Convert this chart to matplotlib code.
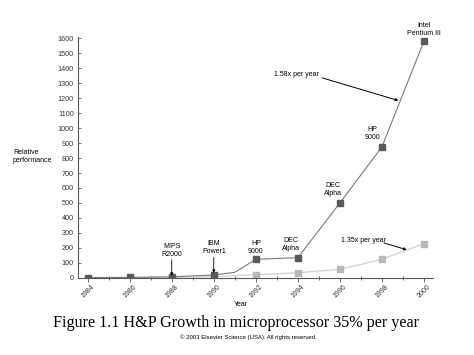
import matplotlib
matplotlib.use("Agg")
import matplotlib.pyplot as plt
from matplotlib.ticker import MultipleLocator

# Data
dark_years = [1984, 1986, 1988, 1990, 1991, 1992, 1994, 1996, 1998, 2000]
dark_values = [1, 2, 6, 18, 36, 123, 134, 500, 875, 1582]
dark_marked = [0, 1, 2, 3, 5, 6, 7, 8, 9]

light_years = [1984, 1986, 1988, 1990, 1992, 1994, 1996, 1998, 2000]
light_values = [0, 1, 3, 7, 20, 33, 56, 123, 228]
light_marked = [4, 5, 6, 7, 8]

xticks = [1984, 1986, 1988, 1990, 1992, 1994, 1996, 1998, 2000]
yticks = list(range(0, 1700, 100))

labels = [
    ("Intel\nPentium III", 2000.0, 1662),
    ("HP\n9000", 1997.56, 962),
    ("DEC\nAlpha", 1995.67, 587),
    ("HP\n9000", 1992.0, 199),
    ("DEC\nAlpha", 1993.66, 225),
]
arrow_labels = [
    ("MIPS\nR2000", 1988.0, 185, 120, 12),
    ("IBM\nPower1", 1990.0, 205, 135, 32),
]

sans = "Liberation Sans"
fs = 5.0
fig = plt.figure(figsize=(4.74, 3.55), dpi=100)
ax = fig.add_axes([78/474, 1-278/355, (433-78)/474, (278-37)/355])

ax.plot(light_years, light_values, color="#d0d0d0", lw=0.9, zorder=2,
        marker="s", markersize=3.8, markerfacecolor="#b8b8b8",
        markeredgecolor="#b8b8b8", markevery=light_marked)
ax.plot(dark_years, dark_values, color="#7a7a7a", lw=0.8, zorder=3,
        marker="s", markersize=3.8, markerfacecolor="#5a5a5a",
        markeredgecolor="#5a5a5a", markevery=dark_marked)

ax.set_xlim(1983.54, 2000.43)
ax.set_ylim(-2, 1610)
ax.set_xticks(xticks)
ax.set_xticklabels([str(x) for x in xticks], rotation=45, ha="center",
                   fontsize=fs, family=sans)
ax.xaxis.set_minor_locator(MultipleLocator(1))
ax.set_yticks(yticks)
ax.set_yticklabels([str(y) for y in yticks], fontsize=5.2, family=sans)
ax.tick_params(axis="y", direction="in", length=2.5, width=0.5, pad=3, colors="#333333")
ax.tick_params(axis="x", which="major", direction="out", length=3, width=0.5, pad=1, colors="#333333")
ax.tick_params(axis="x", which="minor", direction="inout", length=3, width=0.5, colors="#333333")
for s in ["top", "right"]:
    ax.spines[s].set_visible(False)
for s in ["left", "bottom"]:
    ax.spines[s].set_linewidth(0.8)
    ax.spines[s].set_color("#555555")

for txt, x, y in labels:
    ax.text(x, y, txt, ha="center", va="center", fontsize=fs, family=sans,
            linespacing=1.2, clip_on=False)
for txt, x, y, y0, y1 in arrow_labels:
    ax.text(x, y, txt, ha="center", va="center", fontsize=fs, family=sans, linespacing=1.2)
    ax.annotate("", xy=(x, y1), xytext=(x, y0),
                arrowprops=dict(arrowstyle="-|>", color="black", lw=0.6,
                                mutation_scale=4, shrinkA=0, shrinkB=0))

ax.text(1993.92, 1357, "1.58x per year", ha="center", va="center", fontsize=fs, family=sans)
ax.annotate("", xy=(1998.78, 1185), xytext=(1995.15, 1337),
            arrowprops=dict(arrowstyle="-|>", color="black", lw=0.7,
                            mutation_scale=4, shrinkA=0, shrinkB=0))
ax.text(1997.1, 248, "1.35x per year", ha="center", va="center", fontsize=fs, family=sans)
ax.annotate("", xy=(1999.18, 187), xytext=(1998.1, 232),
            arrowprops=dict(arrowstyle="-|>", color="black", lw=0.7,
                            mutation_scale=4, shrinkA=0, shrinkB=0))

fig.text(13/474, 1-156/355, "Relative\nperformance", ha="left", va="center",
         fontsize=fs, family=sans, linespacing=1.2)
fig.text(241/474, 1-305/355, "Year", ha="center", va="center", fontsize=fs, family=sans)
fig.text(236/474, 1-323/355, "Figure 1.1 H&P Growth in microprocessor 35% per year",
         ha="center", va="center", fontsize=11.6, family="Liberation Serif")
fig.text(248/474, 1-337/355, "© 2003 Elsevier Science (USA). All rights reserved.",
         ha="center", va="center", fontsize=4.3, family=sans)

fig.savefig("out.png", dpi=100)
